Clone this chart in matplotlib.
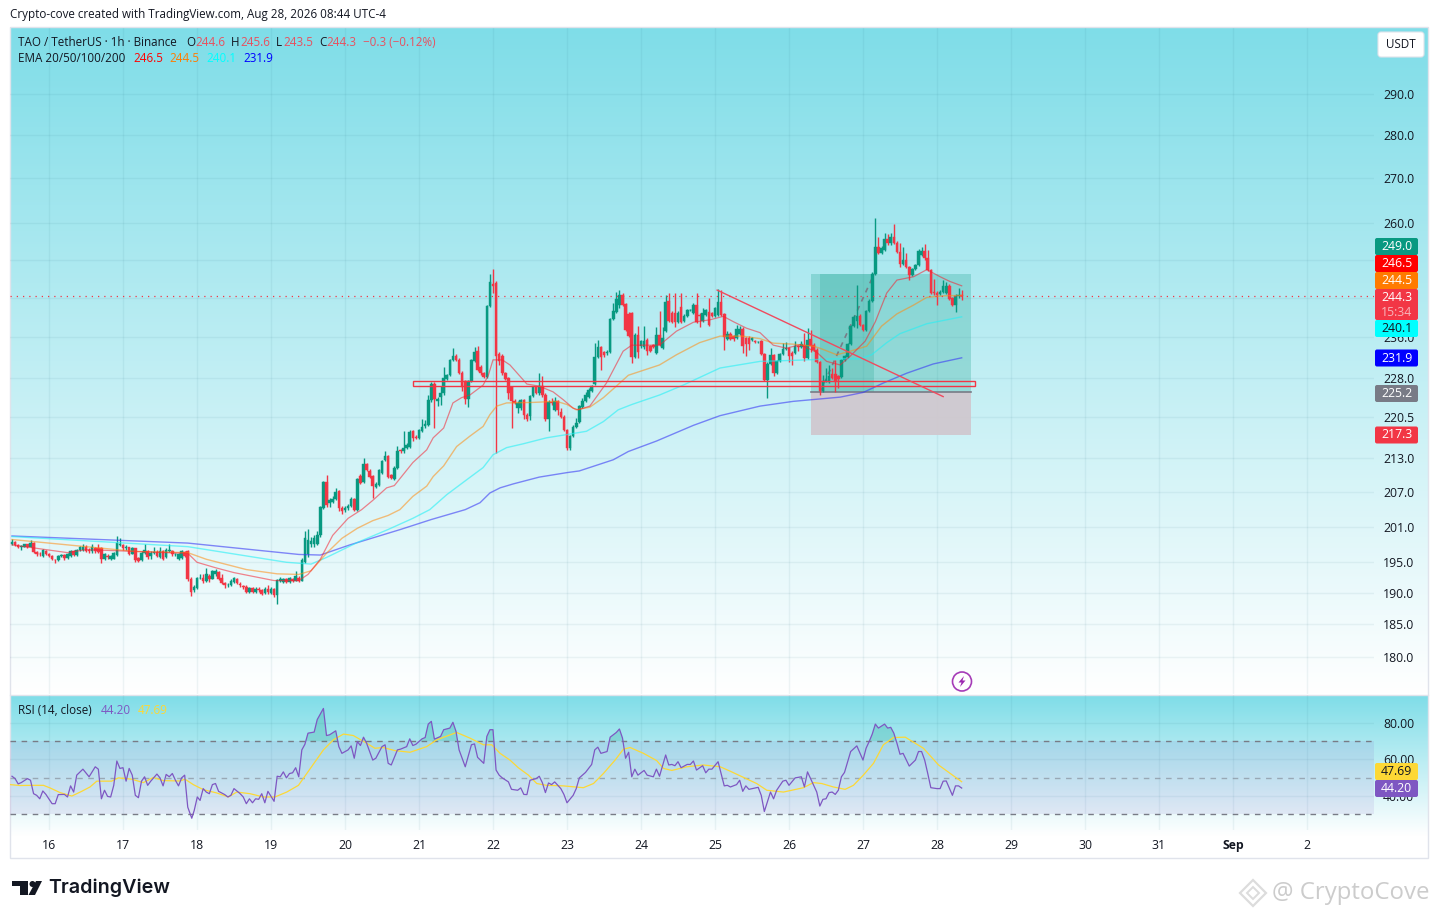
import numpy as np
import matplotlib
matplotlib.use("Agg")
import matplotlib.pyplot as plt
from matplotlib.patches import FancyBboxPatch, Rectangle, Polygon, Circle

plt.rcParams['font.family'] = ['Open Sans', 'DejaVu Sans']

# hours since Aug 16 00:00, one candle per hour starting at -12
opens = [
    198.1,198.3,197.9,197.5,197.6,198.0,197.6,198.2,196.7,196.4,
    196.1,196.9,196.4,196.1,195.4,195.3,196.0,196.2,195.7,196.0,
    196.8,196.2,197.0,197.0,197.5,197.0,196.8,197.3,197.4,197.4,
    195.5,196.0,195.5,195.6,196.2,197.9,197.8,197.3,197.5,196.4,
    197.3,195.7,195.3,196.5,196.8,196.0,196.6,196.7,195.9,196.9,
    195.8,196.8,196.9,196.4,195.6,195.7,196.7,196.9,192.2,190.4,
    190.8,192.4,192.5,192.0,192.8,192.3,193.0,193.4,192.5,191.6,
    191.3,191.3,191.8,192.3,191.5,191.1,191.0,190.2,190.8,190.2,
    190.7,190.5,190.0,190.7,190.0,190.6,189.6,192.0,191.8,192.2,
    191.8,192.3,192.0,192.5,192.0,195.0,196.3,198.0,198.0,198.0,
    199.5,204.2,208.8,205.0,205.3,205.8,207.1,204.2,203.8,204.1,
    204.5,205.7,203.9,209.8,208.8,211.9,210.7,209.8,207.9,208.2,
    210.3,212.6,213.3,209.9,209.3,211.3,214.4,214.2,214.9,215.0,
    217.9,216.9,216.7,218.0,218.8,219.0,223.7,226.8,223.5,224.4,
    225.0,227.8,228.5,231.4,232.3,231.5,229.0,227.3,224.0,227.3,
    231.3,233.2,230.1,228.9,228.1,242.3,246.8,247.1,232.6,232.3,
    228.9,228.0,226.2,223.6,222.2,222.2,223.7,221.0,220.7,224.6,
    226.2,225.0,226.4,224.8,220.1,223.4,221.9,223.5,221.5,220.6,
    218.2,214.8,217.0,218.7,219.6,222.4,223.6,224.4,225.5,226.9,
    232.0,234.0,233.0,232.8,233.0,239.6,241.0,242.5,244.6,242.7,
    240.7,240.8,232.0,236.5,234.2,234.0,235.5,234.2,234.4,232.9,
    236.5,233.9,237.3,243.4,240.9,240.9,239.1,242.2,239.3,240.3,
    241.4,240.8,242.5,240.5,239.3,240.5,241.0,240.8,240.3,240.5,
    243.2,240.7,235.6,236.7,236.2,235.9,236.7,237.7,235.9,235.9,
    235.5,235.2,235.0,235.2,232.7,227.6,230.7,232.5,229.0,231.2,
    232.7,233.6,233.8,232.9,232.9,234.2,234.0,234.5,231.9,235.6,
    234.5,233.5,231.0,225.5,227.4,227.2,228.8,228.8,228.3,228.2,
    231.5,232.0,234.7,238.3,239.3,240.3,238.4,237.5,241.3,243.4,
    249.0,254.8,253.5,254.1,256.5,255.5,257.0,255.6,253.7,251.0,
    252.0,250.4,248.7,250.0,250.8,253.0,253.9,252.3,249.9,245.3,
    245.1,244.8,245.3,245.0,246.5,243.9,242.5,244.4,244.6,
]
closes = [
    198.4,197.8,197.6,197.7,198.0,197.6,198.2,196.7,196.3,196.3,
    197.0,196.4,196.1,195.5,195.3,196.1,196.2,195.7,196.4,196.8,
    196.2,197.0,197.5,197.6,196.9,196.8,197.6,196.9,196.7,195.5,
    196.3,195.9,196.0,196.5,198.2,198.1,197.3,197.5,196.4,197.3,
    195.3,195.2,196.6,197.0,195.8,196.6,196.7,196.1,196.9,195.6,
    197.0,197.0,196.3,196.4,196.3,196.8,196.0,192.3,190.2,190.9,
    192.4,192.5,192.0,193.0,192.2,193.5,193.6,192.3,191.6,191.2,
    191.3,192.0,192.4,191.6,191.2,190.9,190.2,190.8,190.2,190.7,
    190.4,189.9,190.7,190.1,190.7,189.6,192.1,192.3,192.3,191.8,
    192.4,191.9,192.8,192.0,195.3,199.0,198.8,198.5,199.0,199.5,
    204.4,208.8,204.7,205.6,205.8,207.0,204.1,203.7,204.1,204.6,
    205.8,203.9,209.3,208.6,211.9,210.8,209.7,208.0,208.4,210.8,
    212.5,213.3,209.7,209.5,211.3,214.3,214.2,214.8,215.4,217.8,
    216.6,216.6,218.1,218.7,219.2,223.7,226.8,224.0,224.0,225.0,
    227.9,228.5,231.4,232.3,231.5,228.9,226.3,224.0,227.3,231.4,
    233.0,229.6,228.9,228.1,242.3,247.2,246.5,232.2,231.2,228.9,
    227.8,225.0,223.5,223.2,223.2,223.7,221.0,220.2,224.6,226.2,
    225.1,226.4,224.7,220.1,223.4,223.2,223.5,221.9,220.6,218.2,
    214.8,217.0,218.7,219.4,222.6,223.6,224.7,225.7,226.4,232.0,
    234.0,232.0,232.4,233.0,239.6,241.2,243.7,244.6,242.5,237.5,
    236.3,232.0,236.5,233.0,235.2,235.2,233.3,233.3,234.1,236.5,
    234.4,235.9,243.2,239.3,239.1,239.1,240.9,239.1,240.3,241.5,
    241.5,242.5,239.1,240.3,240.9,241.5,238.4,240.3,241.9,243.2,
    240.5,236.0,236.7,235.6,235.6,237.7,237.7,234.2,234.6,234.6,
    235.9,235.0,235.1,232.7,227.6,230.7,232.5,229.0,231.2,232.7,
    233.6,233.8,232.3,232.3,234.2,234.0,234.6,231.9,235.5,234.2,
    233.5,231.0,225.5,227.4,227.6,228.4,227.9,227.3,227.8,231.5,
    232.2,234.7,238.3,240.0,240.3,238.4,237.5,241.3,243.4,249.0,
    254.8,253.5,254.6,256.5,255.5,256.8,255.6,253.7,251.0,252.0,
    250.4,248.7,250.0,250.8,253.9,253.9,252.3,249.8,245.0,245.0,
    244.6,245.3,246.5,246.5,243.7,242.5,244.4,244.6,244.3,
]
highs = [
    198.9,198.5,198.0,197.8,198.1,198.1,198.8,198.4,196.9,196.7,
    197.2,197.0,196.6,196.2,195.6,196.2,196.4,196.4,196.6,197.0,
    197.0,197.2,197.7,198.1,197.8,197.3,198.0,197.5,198.1,197.6,
    196.5,196.3,196.2,196.7,199.4,199.0,198.0,197.8,197.6,197.5,
    197.4,195.9,196.8,198.0,197.0,196.8,197.6,197.0,197.6,197.0,
    197.3,198.0,197.1,196.6,196.5,197.0,196.9,197.0,192.6,191.2,
    192.6,193.0,193.0,194.0,193.1,193.8,193.9,193.6,193.0,191.8,
    191.6,192.2,192.6,192.5,191.7,191.3,191.2,191.0,191.0,190.9,
    190.9,190.7,191.0,191.3,190.9,190.8,192.3,192.6,192.5,192.4,
    192.6,192.5,193.5,192.7,195.7,200.3,200.5,199.3,199.5,200.2,
    204.6,208.9,209.9,206.0,206.2,207.6,207.3,204.5,204.5,204.9,
    206.1,206.0,209.4,210.1,213.0,212.2,211.0,210.0,208.7,211.0,
    212.7,214.3,213.5,210.2,211.5,215.2,214.7,218.0,215.7,218.2,
    218.2,217.2,218.3,220.1,220.0,224.7,227.2,227.1,224.3,226.5,
    230.1,228.8,231.6,233.9,232.6,231.8,229.3,227.6,227.5,231.6,
    234.0,234.2,230.4,229.2,242.5,249.0,250.1,247.4,233.0,232.6,
    229.1,228.2,226.5,224.0,223.5,224.0,224.0,221.3,224.8,226.5,
    226.5,228.9,228.4,225.1,223.7,224.2,224.3,223.8,222.2,220.9,
    218.4,217.3,219.1,220.3,222.8,224.1,225.3,226.0,226.7,234.8,
    235.5,234.3,233.3,233.4,239.9,243.0,245.2,245.7,245.0,243.0,
    241.0,241.0,236.8,238.3,235.5,238.2,235.8,234.5,234.7,238.0,
    241.2,238.0,244.6,245.0,241.2,245.0,241.2,245.0,240.6,241.8,
    241.7,243.0,245.0,240.8,242.0,241.7,244.0,241.0,242.2,245.9,
    245.6,240.9,237.3,237.0,236.5,238.5,238.3,238.0,236.1,236.2,
    236.1,235.5,235.3,235.4,232.9,231.0,233.8,232.7,231.4,232.9,
    234.9,235.0,234.1,233.2,235.2,234.5,235.2,236.8,237.8,237.4,
    234.8,233.8,231.2,228.6,230.0,230.5,230.0,231.5,228.6,231.7,
    232.5,234.9,238.5,240.4,246.6,240.6,238.7,241.5,243.7,249.3,
    261.0,257.0,255.0,257.7,257.6,257.7,259.8,256.0,255.5,254.8,
    253.5,250.6,250.2,251.2,254.2,254.8,255.3,254.0,250.1,248.0,
    245.4,245.6,247.8,247.3,246.8,244.2,244.7,246.0,245.6,
]
lows = [
    197.9,197.7,197.4,197.1,197.5,197.4,197.5,196.5,196.0,196.0,
    195.9,196.2,195.9,195.4,194.9,195.2,195.8,195.4,195.6,195.9,
    196.0,196.1,196.9,196.9,196.7,196.5,196.6,196.6,196.5,194.8,
    195.4,195.6,195.4,195.5,196.1,197.7,197.1,197.1,196.2,196.3,
    195.1,195.0,195.2,196.4,195.6,195.5,196.4,195.9,195.7,195.4,
    195.7,196.7,196.1,196.1,195.4,195.6,195.8,192.0,189.5,190.2,
    190.7,192.2,191.6,191.8,191.8,192.2,192.8,192.1,191.4,190.8,
    191.0,191.1,191.6,191.4,190.9,190.7,190.0,190.0,190.0,190.0,
    190.2,189.7,189.8,189.9,189.8,189.4,188.3,191.7,191.6,191.6,
    191.6,191.7,191.9,191.8,191.9,194.8,195.9,197.5,197.6,197.8,
    199.3,204.0,204.4,204.3,205.1,205.6,203.7,203.1,203.5,203.9,
    204.3,203.7,203.7,208.4,208.6,210.6,209.5,206.0,207.7,208.0,
    210.1,212.4,209.5,209.2,209.0,211.1,214.0,214.0,214.7,214.8,
    216.2,216.4,216.5,217.8,218.6,218.8,223.4,218.5,222.6,222.8,
    224.8,227.5,228.3,231.2,231.2,228.7,225.5,223.0,222.5,227.1,
    231.1,229.4,228.6,227.9,227.9,242.1,245.0,214.0,230.5,228.5,
    227.6,224.0,218.5,223.0,221.3,221.8,220.2,219.8,220.0,224.4,
    224.9,224.7,224.4,219.9,217.9,222.8,221.6,220.9,220.4,218.0,
    214.5,214.4,216.8,218.5,219.4,222.2,223.4,224.2,225.3,226.7,
    231.8,229.6,232.1,232.5,232.8,239.4,240.8,242.0,242.3,237.3,
    236.0,230.8,231.8,231.8,233.8,233.7,232.5,233.1,233.9,232.7,
    234.2,233.7,237.1,239.1,238.9,238.0,238.9,238.9,239.1,240.1,
    241.2,240.6,238.9,238.0,239.1,240.3,238.2,240.1,240.1,240.3,
    240.3,233.5,235.4,235.4,235.3,235.7,236.5,232.9,232.3,233.5,
    235.3,234.8,234.8,232.5,227.4,224.2,230.5,228.3,228.8,231.0,
    232.5,233.4,231.0,230.5,232.7,233.3,233.8,231.3,231.7,233.0,
    233.3,230.8,224.8,225.3,227.2,227.0,227.7,225.2,226.0,228.0,
    231.3,231.8,234.5,238.1,237.8,238.2,237.3,237.3,241.1,243.2,
    248.8,253.2,253.2,253.8,255.2,255.2,255.3,253.5,250.5,250.8,
    250.2,247.8,248.5,249.8,250.6,252.8,252.0,249.6,244.8,244.6,
    242.6,244.5,245.1,244.8,243.5,242.3,241.0,244.0,243.5,
]

ema20_hours = [-12,6,12,28,38,45,48,54,60,73,81,84,88,92,97,101.4,105,109.5,112,118,122.5,124.6,128,131,133.8,136.5,140.8,142.5,144,147,149.5,155,159,163.5,166.8,170,171.6,175.4,180.8,186.2,189,198,203.5,209,214.4,218.7,222,226.2,230.6,234.9,239.2,243.6,249,252.2,256.6,259.8,264.7,268,271.7,275,280.4,284.7,289,292.2,296]
ema20_vals = [197.9,196.6,197.1,196.8,196.6,196.5,195,194.1,193.3,192,192,193,195.5,199.5,202.4,203.9,205.5,207.7,208.1,212.2,214.5,216.7,218.5,223.2,224.2,224.7,226.6,228.5,231.5,231.5,230.5,226.8,226.4,225.3,223.8,222.2,221.9,222.6,227,233.2,234.4,234.4,237.2,239,239.5,240.2,239.1,237.8,236.9,234.4,233.8,234.5,233,231.2,230.5,232.2,235.2,239.1,245,247.7,248.4,249.9,248.4,247.4,246.5]
ema50_hours = [-12,28,45,51,64,74,81,85,90,95,100,105,110,113.8,118,122.5,124.6,128,132.2,136.5,140.8,143,145.2,148.4,157,164.6,168,171,175.4,179.8,184,187.9,198,203.5,211,217.6,225,230.6,234.9,241.4,247.9,250,255.5,259.8,265.2,270,275,280.4,284.7,290,296]
ema50_vals = [198.8,196.8,196.6,195.5,193.8,193.1,193,193.6,196.5,199,200.7,202,202.9,203.9,206.2,208,209.7,211.6,215.1,217,218.8,221,222.6,223.2,223.3,223.5,222.9,221.9,222.4,224.2,226.4,228.5,230.5,232.5,234.9,236.2,236.2,235.7,234.8,234.6,234.2,233.8,232.5,233.2,234.2,238.2,240.7,242.5,244.1,244.4,244.5]
ema100_hours = [-12,45,77,85,90,100,110,118,123.5,129,135.4,140.8,144,148.4,153.8,161.4,168,174.3,179.8,184.6,189,198,205.7,217.6,230.6,241.4,254.4,263,266.8,271.7,276,284.7,291.2,296]
ema100_vals = [199.3,197.6,195,194.7,195.8,198.3,200.5,202.4,203.9,206.5,209.1,211.3,213.6,214.9,215.6,216.7,217.3,217.9,219.7,221.9,222.9,224.7,226.6,229.9,231.2,231.4,231.7,231.7,232.5,234.9,236.7,238.7,239.5,240.1]
ema200_hours = [-12,45,81,88,97.6,114,124,135,139.8,143,146.3,150.6,159,168,172,183,187.9,197,209,217.6,230.6,241.4,256.6,264.1,270.6,278.2,286.8,296]
ema200_vals = [199.4,198.2,196.3,196.2,197.9,200.5,202.2,203.9,205.1,206.8,207.7,208.4,209.6,210.4,210.7,212.7,214.2,216.1,219,220.8,222.6,223.5,224.3,225.2,227,228.9,230.7,231.9]

rsi_hours = [-12,-11,-10,-9,-7,-6,-5,-4,-3,-2,-1,1,2,3,5,6,7,8,9,11,13,15,16,17,18,19,20,21,22,23,24,25,26,27,28,29,30,31,32,33,35,36,37,38,39,40,41,42,43,44,45,45.6,46.3,47.1,48.1,49,50,51,52,53,54,55,57,58,59,60,62,63,64,65,66,67,68,69,70,71,73,74,75,76,77,78,79,80,81,82,83,84,86,87,89,90,91,93,94,95,97,98,99,100,101,102,103,105,106,108,109,110,111,113,114,116,117,118,119,121,122,123,124,125,127,128,130,131,132,133,135,137,138,139,141,142,143,144,145,146,147,149,150,152,153,154,155,156,158,159,160,161,162,163,164,166,167,168,170,171,172,174,176,177,178,179,181,182,184,185,186,187,188,189,190,191,193,194,196,197,198,200,201,202,203,204,205,207,208,209,210,212,213,214,215,217,219,220,221,223,224,225,226,227,230,231,232,234,235,236,238,239,240,242,244,245,246,248,249,250,251,252,253,254,255,256,257,258,260,262,264,265,266,267,268,269,271,272,273,274,275,276,277,279,281,282,283,284,285,286,288,289,290,291,293,294,295,296]
rsi_vals = [50.7,49.4,46.5,47.2,49.4,48.5,41.1,40.2,38.3,42.6,40.7,35.6,35.6,40.6,40.7,39.3,45.4,42,51.3,54.6,50.4,55.9,54.6,38.3,43,39.6,39.3,45.7,59.1,55,55.4,48,55,51.3,40.2,38.9,48,50.4,45.7,48,51.9,49.8,45.4,51.7,50.4,52.2,48.5,45.4,49.8,51.3,33.7,30.9,27.6,31.9,39.3,37.4,43.9,42,41.1,46.1,46.7,42.4,40.6,39.3,40.2,43.9,41.1,39.3,35.6,38.3,36.1,38.3,38,41.1,36.1,42.4,36.9,50.7,50.4,53.1,49.8,52.2,52.6,55.4,50.4,65.2,68.3,74.4,75,81.9,88,73.1,73.5,75.7,67,63.3,65.2,67.4,60.6,69.8,67.6,72.2,68.9,59.6,60.6,67,68,57.8,56.9,65.2,65.6,67,71.3,67.6,68.3,71.3,72,79.4,80.9,71.1,72.6,76.3,77.2,80.4,75.4,65.2,55.9,68,68.5,61.1,57.8,72.6,76.3,76.3,54.1,51.3,49.8,47.6,43.5,43,44.3,40.7,40.6,48.5,49.4,50.7,47.2,41.7,47,46.1,47.6,43.9,40.7,36.1,40.2,43.9,49.8,52.8,57.2,65.2,66.7,63.3,64.3,72.2,74.8,76.7,71.7,60.6,63.9,50.4,54.6,51.3,53.9,51.3,50.4,54.6,50.7,62.4,56.9,57.2,56.5,58.7,55.4,57.2,57.2,59.1,54.1,56.5,52.6,54.6,54.6,58.7,45.4,45.7,44.8,46.1,48.5,42.4,45.4,43.5,44.6,40.2,31.3,42,38.3,43,48,48.5,45.7,49.8,50.4,44.8,53.1,45.7,42,34.3,38,38.3,41.7,42,40.7,43,50.4,52.8,64.3,67.4,59.6,66.1,69.8,73.9,79.4,77.2,79.4,77.2,77.6,74.4,68.9,62.8,63.3,56.3,59.6,64.3,64.3,59.6,52.2,44.4,43.9,43.9,48,48.1,40.2,45.4,45.4,44.2]

rsi_ma_hours = [-12.6,-9.4,-5.1,-1.8,0.3,3.6,7.4,10.6,13.3,15.5,20.3,22.5,26.8,30.6,33.8,37.1,42.5,44.1,46.8,50.1,54.4,58.2,60.9,65.2,69.5,73.3,77.1,80.9,83.6,86.3,89,92.2,95.5,98.7,103,105.7,108.4,112.2,117.1,122.5,125.7,132.2,136.5,140.9,143.6,146.3,149.5,152.2,155.5,158.2,161.4,166.8,173.3,176.6,179.8,183.6,186.3,188.5,192.8,197.1,199.3,202,206.8,212.2,217.7,220.9,229.5,232.8,238.2,244.7,247.9,250.6,254.4,258.2,260.9,264.1,267.4,270.6,273.9,277.7,283.6,288.5,296]
rsi_ma_vals = [46.1,45.6,45.7,45.7,44.3,41.7,39.8,42.4,44.8,48,48,49.8,49.1,47.2,50,48.3,48.1,49.1,46.1,43.3,41.5,39.3,42,41.1,39.3,39.3,42,45.7,52.2,58.7,65.2,70.7,73.9,73.1,68.9,66.1,66.5,64.8,63.9,67,70.7,74.8,71.7,68,68,63.3,59.6,55.4,51.3,46.7,45.7,45.4,44.4,46.7,52.2,59.6,65.6,66.5,63.3,59.3,55,53.9,55.9,56.9,55.9,53.5,46.7,43,42,44.4,47.2,46.7,44.8,43.5,45.7,51.3,57.8,68,72,72.2,66.1,56.9,47.69]

price_ticks = [290, 280, 270, 260, 252, 244, 236, 228, 220.5, 213, 207, 201, 195, 190, 185, 180]
price_tick_labels = ['290.0', '280.0', '270.0', '260.0', '252.0', '244.0', '236.0', '228.0', '220.5', '213.0', '207.0', '201.0', '195.0', '190.0', '185.0', '180.0']
day_labels = ['16', '17', '18', '19', '20', '21', '22', '23', '24', '25', '26', '27', '28', '29', '30', '31', 'Sep', '2']

W, H = 1438, 918
UP, DOWN = '#089981', '#f23645'
TXT = '#131722'

fig = plt.figure(figsize=(W / 100, H / 100), dpi=100, facecolor='white')


def pane_axes(top, bottom, zorder=2):
    a = fig.add_axes([10 / W, 1 - bottom / H, 1364 / W, (bottom - top) / H], zorder=zorder)
    a.patch.set_alpha(0)
    for s in a.spines.values():
        s.set_visible(False)
    return a


# background: a gradient per pane, running under the price scale as well
bg = fig.add_axes([0, 0, 1, 1], zorder=0)
bg.set_xlim(0, W)
bg.set_ylim(H, 0)
bg.axis('off')
top_col = np.array([127, 221, 232]) / 255
for y0, y1 in [(28, 694), (695, 836)]:
    t = np.linspace(0, 1, 256)[:, None, None]
    grad = top_col * (1 - t) + np.ones(3) * t
    bg.imshow(grad, extent=(10, 1428, y1, y0), aspect='auto', zorder=1)
bg.set_xlim(0, W)
bg.set_ylim(H, 0)
bg.add_patch(Rectangle((10, 27), 1418, 831, fill=False, ec='#e0e3eb', lw=1, zorder=3))
bg.plot([10, 1428], [694.5, 694.5], color='#e0e3eb', lw=1, zorder=3)

# price pane
ax = pane_axes(28, 694)
px_per_hour = 74 / 24
x_min = (10 - 49) / px_per_hour
x_max = (1374 - 49) / px_per_hour
ax.set_yscale('log')
ax.set_xlim(x_min, x_max)
ax.set_ylim(174.4, 306.7)
ax.yaxis.tick_right()
ax.set_yticks(price_ticks)
ax.set_yticklabels(price_tick_labels)
ax.minorticks_off()
ax.tick_params(axis='y', length=0, pad=6.5, labelsize=8.8, labelcolor=TXT)
ax.tick_params(axis='x', length=0, labelbottom=False)
day_hours = [24 * i for i in range(len(day_labels))]
ax.set_xticks(day_hours)
ax.grid(True, color='#2a6f80', alpha=0.075, lw=1)
ax.set_axisbelow(True)

hours = np.arange(-12, -12 + len(closes))
o, c, hi, lo = map(np.array, (opens, closes, highs, lows))
colors = [UP if b >= a else DOWN for a, b in zip(o, c)]

# long position tool
ax.add_patch(Rectangle((247.2, 225.2), 51.8, 23.8, fc=UP, alpha=0.24, lw=0, zorder=1.5))
ax.add_patch(Rectangle((247.2, 217.3), 51.8, 7.9, fc='#d0c8cf', alpha=0.95, lw=0, zorder=1.5))
ax.add_patch(Rectangle((250, 225.2), 17.6, 23.8, fc=UP, alpha=0.2, lw=0, zorder=1.6))
ax.plot([247.2, 299], [225.2, 225.2], color='#787b86', lw=1.2, zorder=1.7)
ax.plot([250, 267.6], [225.2, 249], color='#787b86', lw=1.2, ls=(0, (3, 3)), zorder=1.7)

ax.vlines(hours, lo, hi, colors=colors, lw=1, zorder=3)
ax.bar(hours, np.abs(c - o), bottom=np.minimum(o, c), width=0.85, color=colors, lw=0.3, edgecolor=colors, zorder=3.1)

ax.plot(ema200_hours, ema200_vals, color='#3a3af5', alpha=0.6, lw=1.0, zorder=4)
ax.plot(ema100_hours, ema100_vals, color='#25f0f5', alpha=0.6, lw=1.0, zorder=4)
ax.plot(ema50_hours, ema50_vals, color='#ff8c10', alpha=0.55, lw=1.0, zorder=4)
ax.plot(ema20_hours, ema20_vals, color='#f5202f', alpha=0.55, lw=0.9, zorder=4)

# support zone and trend line
ax.add_patch(Rectangle((118, 226.5), 182.3, 0.8, fill=False, ec='#f23645', lw=1.0, zorder=5))
ax.plot([216.7, 290], [245.6, 224.4], color='#f04a5e', lw=1.0, zorder=5)
ax.axhline(244.3, color='#f23645', lw=0.9, ls=(0, (1, 4)), zorder=5)

# RSI pane
ax2 = pane_axes(695, 829.5)
ax2.set_xlim(x_min, x_max)
ax2.set_ylim(21.4, 95.4)
ax2.yaxis.tick_right()
ax2.set_yticks([40, 60, 80])
ax2.set_yticklabels(['40.00', '60.00', '80.00'])
ax2.set_xticks(day_hours)
ax2.set_xticklabels(day_labels)
ax2.get_xticklabels()[16].set_fontweight('bold')
ax2.tick_params(axis='y', length=0, pad=6.5, labelsize=8.8, labelcolor=TXT)
ax2.tick_params(axis='x', length=0, pad=6.5, labelsize=8.8, labelcolor=TXT)
ax2.grid(True, color='#2a6f80', alpha=0.075, lw=1)
ax2.set_axisbelow(True)

ax2.axhspan(30, 70, color='#7e57c2', alpha=0.11, lw=0, zorder=1)
ax2.axhline(70, color='#787b86', lw=1, ls=(0, (4, 4)), zorder=2)
ax2.axhline(50, color='#787b86', alpha=0.55, lw=1, ls=(0, (4, 4)), zorder=2)
ax2.axhline(30, color='#787b86', lw=1, ls=(0, (4, 4)), zorder=2)
rsi_h = np.array(rsi_hours, dtype=float)
rsi_v = np.array(rsi_vals)
ax2.fill_between(rsi_h, rsi_v, 70, where=rsi_v > 70, interpolate=True, color=UP, alpha=0.22, lw=0, zorder=2)
ax2.plot(rsi_ma_hours, rsi_ma_vals, color='#fdd835', lw=0.9, zorder=3)
ax2.plot(rsi_h, rsi_v, color='#7e57c2', lw=0.9, zorder=4)

# everything drawn in screen pixels: header, badges, logo
ui = fig.add_axes([0, 0, 1, 1], zorder=5)
ui.set_xlim(0, W)
ui.set_ylim(H, 0)
ui.axis('off')


def label(x, y, s, color=TXT, size=8.4, **kw):
    ui.text(x, y, s, color=color, fontsize=size, va='center', ha=kw.pop('ha', 'left'), **kw)


def badge(y, s, bg_col, fg='white', h=17):
    ui.add_patch(FancyBboxPatch((1375, y - h / 2), 43, h, boxstyle='round,pad=0,rounding_size=2', fc=bg_col, ec='none'))
    label(1396.5, y, s, color=fg, size=8.8, ha='center')


label(10, 14.5, 'Crypto-cove created with TradingView.com, Aug 28, 2026 08:44 UTC-4')

RED_TXT = '#e8505f'
label(18, 42, 'TAO / TetherUS · 1h · Binance')
for x, s, col in [(186, 'O', TXT), (195, '244.6', RED_TXT), (231, 'H', TXT), (240, '245.6', RED_TXT),
                  (276, 'L', TXT), (283, '243.5', RED_TXT), (319, 'C', TXT), (326, '244.3', RED_TXT),
                  (363, '−0.3 (−0.12%)', RED_TXT)]:
    label(x, 42, s, color=col)
label(18, 59, 'EMA 20/50/100/200')
for x, s, col in [(133, '246.5', '#ff0000'), (169, '244.5', '#ff7b00'), (206, '240.1', '#00ffff'), (243, '231.9', '#0000ff')]:
    label(x, 59, s, color=col)
label(18, 710, 'RSI (14, close)')
label(101, 710, '44.20', color='#7e57c2')
label(138, 710, '47.69', color='#fdd835')

ui.add_patch(FancyBboxPatch((1378, 32), 46, 25, boxstyle='round,pad=0,rounding_size=3', fc='white', ec='#e0e3eb', lw=0.8))
label(1401, 44.5, 'USDT', ha='center')

badge(246.5, '249.0', UP)
badge(263.5, '246.5', '#ff0000')
badge(280.5, '244.5', '#ff7b00')
ui.add_patch(FancyBboxPatch((1375, 289), 43, 31, boxstyle='round,pad=0,rounding_size=2', fc=DOWN, ec='none'))
label(1396.5, 297.5, '244.3', color='white', size=8.8, ha='center')
label(1396.5, 312, '15:34', color='#f7b5bb', size=8.8, ha='center')
badge(328.5, '240.1', '#00ffff', fg=TXT)
badge(358, '231.9', '#0000ff')
badge(393.5, '225.2', '#787b86')
badge(435, '217.3', DOWN)
badge(771.5, '47.69', '#fdd835', fg=TXT)
badge(788.5, '44.20', '#7e57c2')

# lightning marker
ui.add_patch(Circle((962, 681.5), 9.5, fc='#ffffff', ec='#9c27b0', lw=1.2, alpha=0.9))
ui.add_patch(Polygon([(964, 676), (958.5, 682.5), (961.5, 682.5), (960, 687), (965.5, 680.5), (962.5, 680.5)], fc='#9c27b0', ec='none'))

# TradingView logo
ui.add_patch(Polygon([(12, 881), (28, 881), (28, 895), (20, 895), (20, 886), (12, 886)], fc='#131722', ec='none'))
ui.add_patch(Circle((32.5, 884), 3, fc='#131722', ec='none'))
ui.add_patch(Polygon([(36, 881), (42, 881), (35, 895), (28.5, 895)], fc='#131722', ec='none'))
ui.text(48.5, 888, 'TradingView', color='#131722', fontsize=14.2, fontweight='semibold', family='Inter', va='center')

# watermark
ui.add_patch(Polygon([(1253, 880), (1266, 893), (1253, 906), (1240, 893)], fill=False, ec='#dcdcdc', lw=1.6))
ui.add_patch(Polygon([(1253, 887), (1259, 893), (1253, 899), (1247, 893)], fill=False, ec='#dcdcdc', lw=1.4))
ui.text(1272, 893, '@ CryptoCove', color='#cccccc', fontsize=17.3, va='center')

fig.savefig('out.png', dpi=100)
